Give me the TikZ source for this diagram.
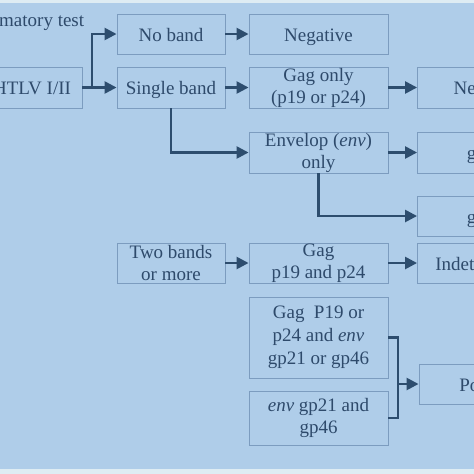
\documentclass[tikz,border=0pt]{standalone}
\usepackage{fontspec}
\setmainfont{Liberation Serif}
\usetikzlibrary{arrows.meta}
\definecolor{bgc}{RGB}{175,205,233}
\definecolor{stripc}{RGB}{222,236,243}
\definecolor{boxc}{RGB}{124,156,191}
\definecolor{txtc}{RGB}{46,74,107}
\definecolor{arrc}{RGB}{45,77,110}
\tikzset{
  boxnode/.style={draw=boxc, line width=0.9pt, text=txtc, align=center,
    inner sep=0pt, font=\fontsize{19}{22}\selectfont,
    minimum width=139pt, minimum height=41pt},
  oneline/.style={text height=14pt, text depth=0pt},
  narrow/.style={minimum width=108pt},
  wide/.style={minimum width=141pt},
  conn/.style={draw=arrc, line width=2.5pt, -{Triangle[length=12pt,width=12pt]}},
  bracketline/.style={draw=arrc, line width=2.5pt},
  plaintext/.style={text=txtc, font=\fontsize{19}{22}\selectfont, inner sep=0pt}
}
\begin{document}
\begin{tikzpicture}[x=1pt,y=-1pt]
\useasboundingbox (0,0) rectangle (474,474);
\clip (0,0) rectangle (474,474);
\fill[bgc] (0,0) rectangle (474,474);
\fill[stripc] (0,0) rectangle (474,2.5);
\fill[stripc] (0,469) rectangle (474,474);

\node[plaintext, anchor=base west] (title) at (-1,26) {matory test};

\node[boxnode, oneline, minimum width=100pt] (htlv) at (32,87.5) {HTLV I/II};
\node[boxnode, oneline, narrow, minimum height=40pt] (noband) at (171,34) {No band};
\node[boxnode, oneline, narrow] (single) at (171,87.5) {Single band};
\node[boxnode, oneline, minimum height=40pt] (negative) at (318.5,34) {Negative};
\node[boxnode] (gagonly) at (318.5,87.5) {Gag only\\(p19 or p24)};
\node[boxnode, oneline, wide] (ne) at (488,87.5) {Ne\phantom{gative}};
\node[boxnode] (envelop) at (318.5,152.5) {Envelop (\textit{env})\\only};
\node[boxnode, oneline, wide] (gone) at (488,152.5) {g\hspace*{33pt}};
\node[boxnode, oneline, wide, minimum height=40pt] (gtwo) at (488,216) {g\hspace*{33pt}};
\node[boxnode, narrow, minimum height=40pt] (two) at (171,263) {Two bands\\or more};
\node[boxnode, minimum height=40pt] (gagp) at (318.5,263) {Gag\\p19 and p24};
\node[boxnode, oneline, wide, minimum height=40pt] (indet) at (488,263) {Indet\phantom{erminate}};
\node[boxnode, minimum height=81pt, font=\fontsize{19}{23}\selectfont] (gagP) at (318.5,337.5) {Gag~~P19 or\\p24 and \textit{env}\\gp21 or gp46};
\node[boxnode, minimum height=54pt] (envgp) at (318.5,418) {\textit{env} gp21 and\\gp46};
\node[boxnode, oneline, minimum width=142pt, minimum height=40pt] (po) at (490,384) {Po\phantom{sitive}};

\coordinate (j1) at (92,87.5);
\coordinate (br) at (398,384);

\draw[conn] (htlv.east) -- (single.west);
\draw[conn] (j1) |- (noband.west);
\draw[conn] (noband) -- (negative);
\draw[conn] (single) -- (gagonly);
\draw[conn] (gagonly) -- (ne);
\draw[conn] (single.south) |- (envelop.west);
\draw[conn] (envelop) -- (gone);
\draw[conn] (envelop.south) |- (gtwo.west);
\draw[conn] (two) -- (gagp);
\draw[conn] (gagp) -- (indet);
\draw[bracketline] (gagP.east) -| (br) |- (envgp.east);
\draw[conn] (br) -- (po.west);
\end{tikzpicture}
\end{document}
